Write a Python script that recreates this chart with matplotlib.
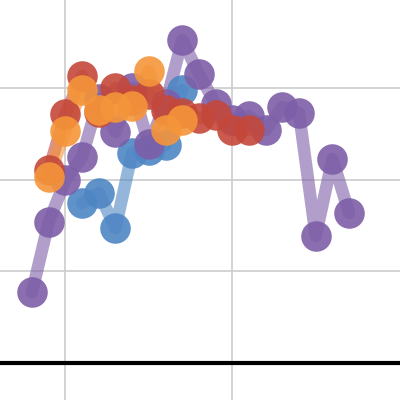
import numpy as np
import matplotlib
matplotlib.use("Agg")
import matplotlib.pyplot as plt

def py(p):  # pixel -> data y
    return (363 - p) / 91.7

purple_x = list(range(0, 20))
purple_px = [292, 222, 180, 157, 99, 132, 88, 144, 104, 40, 74, 104, 120, 116, 130, 107, 113, 236, 159, 213]
blue_x = [3, 4, 5, 6, 7, 8, 9]
blue_px = [203, 193, 228, 153, 150, 145, 90]
red_x = [1, 2, 3, 4, 5, 6, 7, 8, 9, 10, 11, 12, 13]
red_px = [170, 114, 76, 112, 88, 100, 94, 110, 113, 118, 115, 130, 130]
orange_x = [1, 2, 3, 4, 5, 6, 7, 8, 9]
orange_px = [177, 131, 90, 110, 107, 106, 71, 130, 120]

fig = plt.figure(figsize=(4, 4), dpi=100)
ax = fig.add_axes([0, 0, 1, 1])
series = [
    (blue_x, blue_px, "#4e86c4"),
    (purple_x, purple_px, "#7d5ea8"),
    (red_x, red_px, "#c4483a"),
    (orange_x, orange_px, "#f5953a"),
]
for xs, pxs, c in series:
    ax.plot(xs, [py(p) for p in pxs], color=c, lw=9, alpha=0.6, solid_capstyle="round", zorder=2)
    ax.plot(xs, [py(p) for p in pxs], "o", color=c, ms=22, alpha=0.9, mec="none", zorder=3)

ax.set_xlim(-1.92, 22.05)
ax.set_ylim(py(400), py(0))
for x in [2, 12]:
    ax.axvline(x, color="#cccccc", lw=1.2, zorder=1)
for y in [1, 2, 3]:
    ax.axhline(y, color="#cccccc", lw=1.2, zorder=1)
ax.axhline(0, color="black", lw=3, zorder=1)
for s in ax.spines.values():
    s.set_visible(False)
ax.set_xticks([]); ax.set_yticks([])
fig.savefig("out.png", dpi=100)
